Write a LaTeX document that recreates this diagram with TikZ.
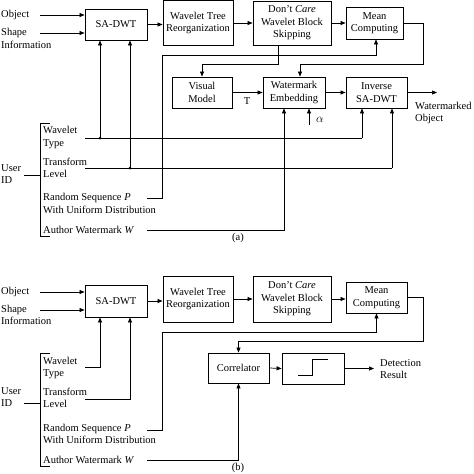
\documentclass[tikz,border=0pt]{standalone}
\usepackage{fontspec}
\setmainfont{Liberation Serif}
\usetikzlibrary{arrows.meta}
\newcommand\dfont{\fontsize{10.5}{12.5}\selectfont}
\begin{document}
\begin{tikzpicture}[x=1pt,y=-1pt,
  box/.style={draw, line width=0.9pt, align=center, inner sep=0pt, font=\dfont},
  lbl/.style={anchor=west, align=left, inner sep=0pt, font=\dfont},
  arr/.style={-{Triangle[length=5pt,width=4pt]}, line width=0.7pt},
  ln/.style={line width=0.7pt},
  dot/.style={fill, circle, inner sep=0pt, minimum size=3pt}]
\fill[white] (0,0) rectangle (474,474);
\useasboundingbox (0,0) rectangle (474,474);

% ---------------- (a) ----------------
\node[box, minimum width=62pt, minimum height=31pt] (sa) at (116,24.5) {SA-DWT};
\node[box, minimum width=70pt, minimum height=45pt] (wtr) at (198,23) {Wavelet Tree\\Reorganization};
\node[box, minimum width=78pt, minimum height=44pt] (dc) at (292,23) {Don't \textit{Care}\\Wavelet Block\\Skipping};
\node[box, minimum width=57pt, minimum height=32pt] (mean) at (374.5,23) {Mean\\Computing};
\node[box, minimum width=60pt, minimum height=31pt] (vm) at (202,92.5) {Visual\\Model};
\node[box, minimum width=62pt, minimum height=31pt] (we) at (294,92.5) {Watermark\\Embedding};
\node[box, minimum width=61pt, minimum height=31pt] (isa) at (376.5,92.5) {Inverse\\SA-DWT};

\node[lbl] (obj) at (1,15) {Object};
\node[lbl] (shp) at (1,38.5) {Shape\\Information};
\coordinate (oa) at (40,15);
\coordinate (sha) at (40,33);
\draw[arr] (oa) -- (oa -| sa.west);
\draw[arr] (sha) -- (sha -| sa.west);

\draw[arr] (sa.east) -- (sa.east -| wtr.west);
\draw[arr] (wtr.east) -- (dc.west);
\draw[arr] (dc.east) -- (mean.west);

\coordinate (k1) at (278,64);
\draw[arr] (k1 |- dc.south) -- (k1) -| (vm.north);
\coordinate (k2) at (423,64);
\draw[arr] (mean.east) -| (k2) -| ([xshift=6pt]we.north);

\draw[arr] (vm.east) -- (we.west);
\node[font=\dfont, inner sep=0pt] (tlab) at (247,101) {T};
\draw[arr] (we.east) -- (isa.west);
\coordinate (outa) at (437,92.5);
\draw[arr] (isa.east) -- (outa);
\node[lbl] (wmo) at (415,113) {Watermarked\\Object};

% bracket (a)
\coordinate (ba1) at (40,123);
\coordinate (ba2) at (40,236);
\coordinate (bam) at (40,175);
\draw[ln] (ba1 -| 50,0) -- (ba1) -- (ba2) -- (ba2 -| 50,0);
\node[lbl] (usera) at (1,174) {User\\ID};
\coordinate (ua) at (24,175);
\draw[ln] (ua) -- (bam);

\node[lbl] (wta) at (43,137.5) {Wavelet\\Type};
\node[lbl] (tla) at (43,168) {Transform\\Level};
\node[lbl] (rsa) at (43,203.5) {Random Sequence \textit{P}\\With Uniform Distribution};
\node[lbl] (awa) at (43,230) {Author Watermark \textit{W}};

\coordinate (wt0) at (85,138);
\coordinate (j1) at (100,138);
\coordinate (wt1) at (362,138);
\draw[ln] (wt0) -- (wt1);
\draw[arr] (wt1) -- (wt1 |- isa.south);
\draw[arr] (j1) -- (j1 |- sa.south);
\node[dot] at (j1) {};

\coordinate (tl0) at (85,168);
\coordinate (j2) at (130,168);
\coordinate (tl1) at (392,168);
\draw[ln] (tl0) -- (tl1);
\draw[arr] (tl1) -- (tl1 |- isa.south);
\draw[arr] (j2) -- (j2 |- sa.south);
\node[dot] at (j2) {};

\coordinate (rs0) at (147,198);
\coordinate (rs1) at (162,198);
\coordinate (rs2) at (162,55);
\draw[arr] (rs0) -- (rs1) -- (rs2) -| ([xshift=1.5pt]mean.south);

\coordinate (aw0) at (147,230);
\coordinate (aw1) at (284,230);
\draw[arr] (aw0) -- (aw1) -- (aw1 |- we.south);

\coordinate (al) at (309,125);
\draw[arr] (al) -- (al |- we.south);
\node[font=\fontsize{13}{15}\selectfont, inner sep=0pt] (alab) at (320,120) {$\alpha$};

\node[font=\dfont, inner sep=0pt] (capa) at (238,238) {(a)};

% ---------------- (b) ----------------
\node[box, minimum width=62pt, minimum height=32pt] (sb) at (116,301) {SA-DWT};
\node[box, minimum width=70pt, minimum height=46pt] (wtrb) at (198,299) {Wavelet Tree\\Reorganization};
\node[box, minimum width=78pt, minimum height=46pt] (dcb) at (292,299) {Don't \textit{Care}\\Wavelet Block\\Skipping};
\node[box, minimum width=61pt, minimum height=31pt] (meanb) at (376.5,297.5) {Mean\\Computing};
\node[box, minimum width=61pt, minimum height=30pt] (corr) at (238.5,368) {Correlator};
\node[box, minimum width=62pt, minimum height=31pt] (stp) at (313,368.5) {};
\draw[ln] ([shift={(-15,6.5)}]stp.center) -- ([shift={(-1,6.5)}]stp.center)
  -- ([shift={(-1,-9.5)}]stp.center) -- ([shift={(15,-9.5)}]stp.center);

\node[lbl] (objb) at (1,292) {Object};
\node[lbl] (shpb) at (1,315) {Shape\\Information};
\coordinate (ob) at (40,292);
\coordinate (shb) at (40,310);
\draw[arr] (ob) -- (ob -| sb.west);
\draw[arr] (shb) -- (shb -| sb.west);

\draw[arr] (sb.east) -- (sb.east -| wtrb.west);
\draw[arr] (wtrb.east) -- (dcb.west);
\draw[arr] (dcb.east) -- (dcb.east -| meanb.west);

\coordinate (k3) at (423,341);
\draw[arr] (meanb.east) -| (k3) -| (corr.north);

\draw[arr] (corr.east) -- (stp.west);
\coordinate (outb) at (374,368.5);
\draw[arr] (stp.east) -- (outb);
\node[lbl] (det) at (380,369) {Detection\\Result};

% bracket (b)
\coordinate (bb1) at (40,353);
\coordinate (bb2) at (40,466);
\coordinate (bbm) at (40,403);
\draw[ln] (bb1 -| 50,0) -- (bb1) -- (bb2) -- (bb2 -| 50,0);
\node[lbl] (userb) at (1,397) {User\\ID};
\coordinate (ub) at (24,403);
\draw[ln] (ub) -- (bbm);

\node[lbl] (wtb) at (43,368) {Wavelet\\Type};
\node[lbl] (tlb) at (43,398) {Transform\\Level};
\node[lbl] (rsb) at (43,434) {Random Sequence \textit{P}\\With Uniform Distribution};
\node[lbl] (awb) at (43,460) {Author Watermark \textit{W}};

\coordinate (wtb0) at (85,367);
\coordinate (wtb1) at (100,367);
\draw[arr] (wtb0) -- (wtb1) -- (wtb1 |- sb.south);
\coordinate (tlb0) at (85,399);
\coordinate (tlb1) at (130,399);
\draw[arr] (tlb0) -- (tlb1) -- (tlb1 |- sb.south);

\coordinate (rsb0) at (147,430);
\coordinate (rsb1) at (162,430);
\coordinate (rsb2) at (162,332);
\draw[arr] (rsb0) -- (rsb1) -- (rsb2) -| (meanb.south);

\coordinate (awb0) at (147,460);
\coordinate (awb1) at (238.5,460);
\draw[arr] (awb0) -- (awb1) -- (corr.south);

\node[font=\dfont, inner sep=0pt] (capb) at (238,468) {(b)};
\end{tikzpicture}
\end{document}
